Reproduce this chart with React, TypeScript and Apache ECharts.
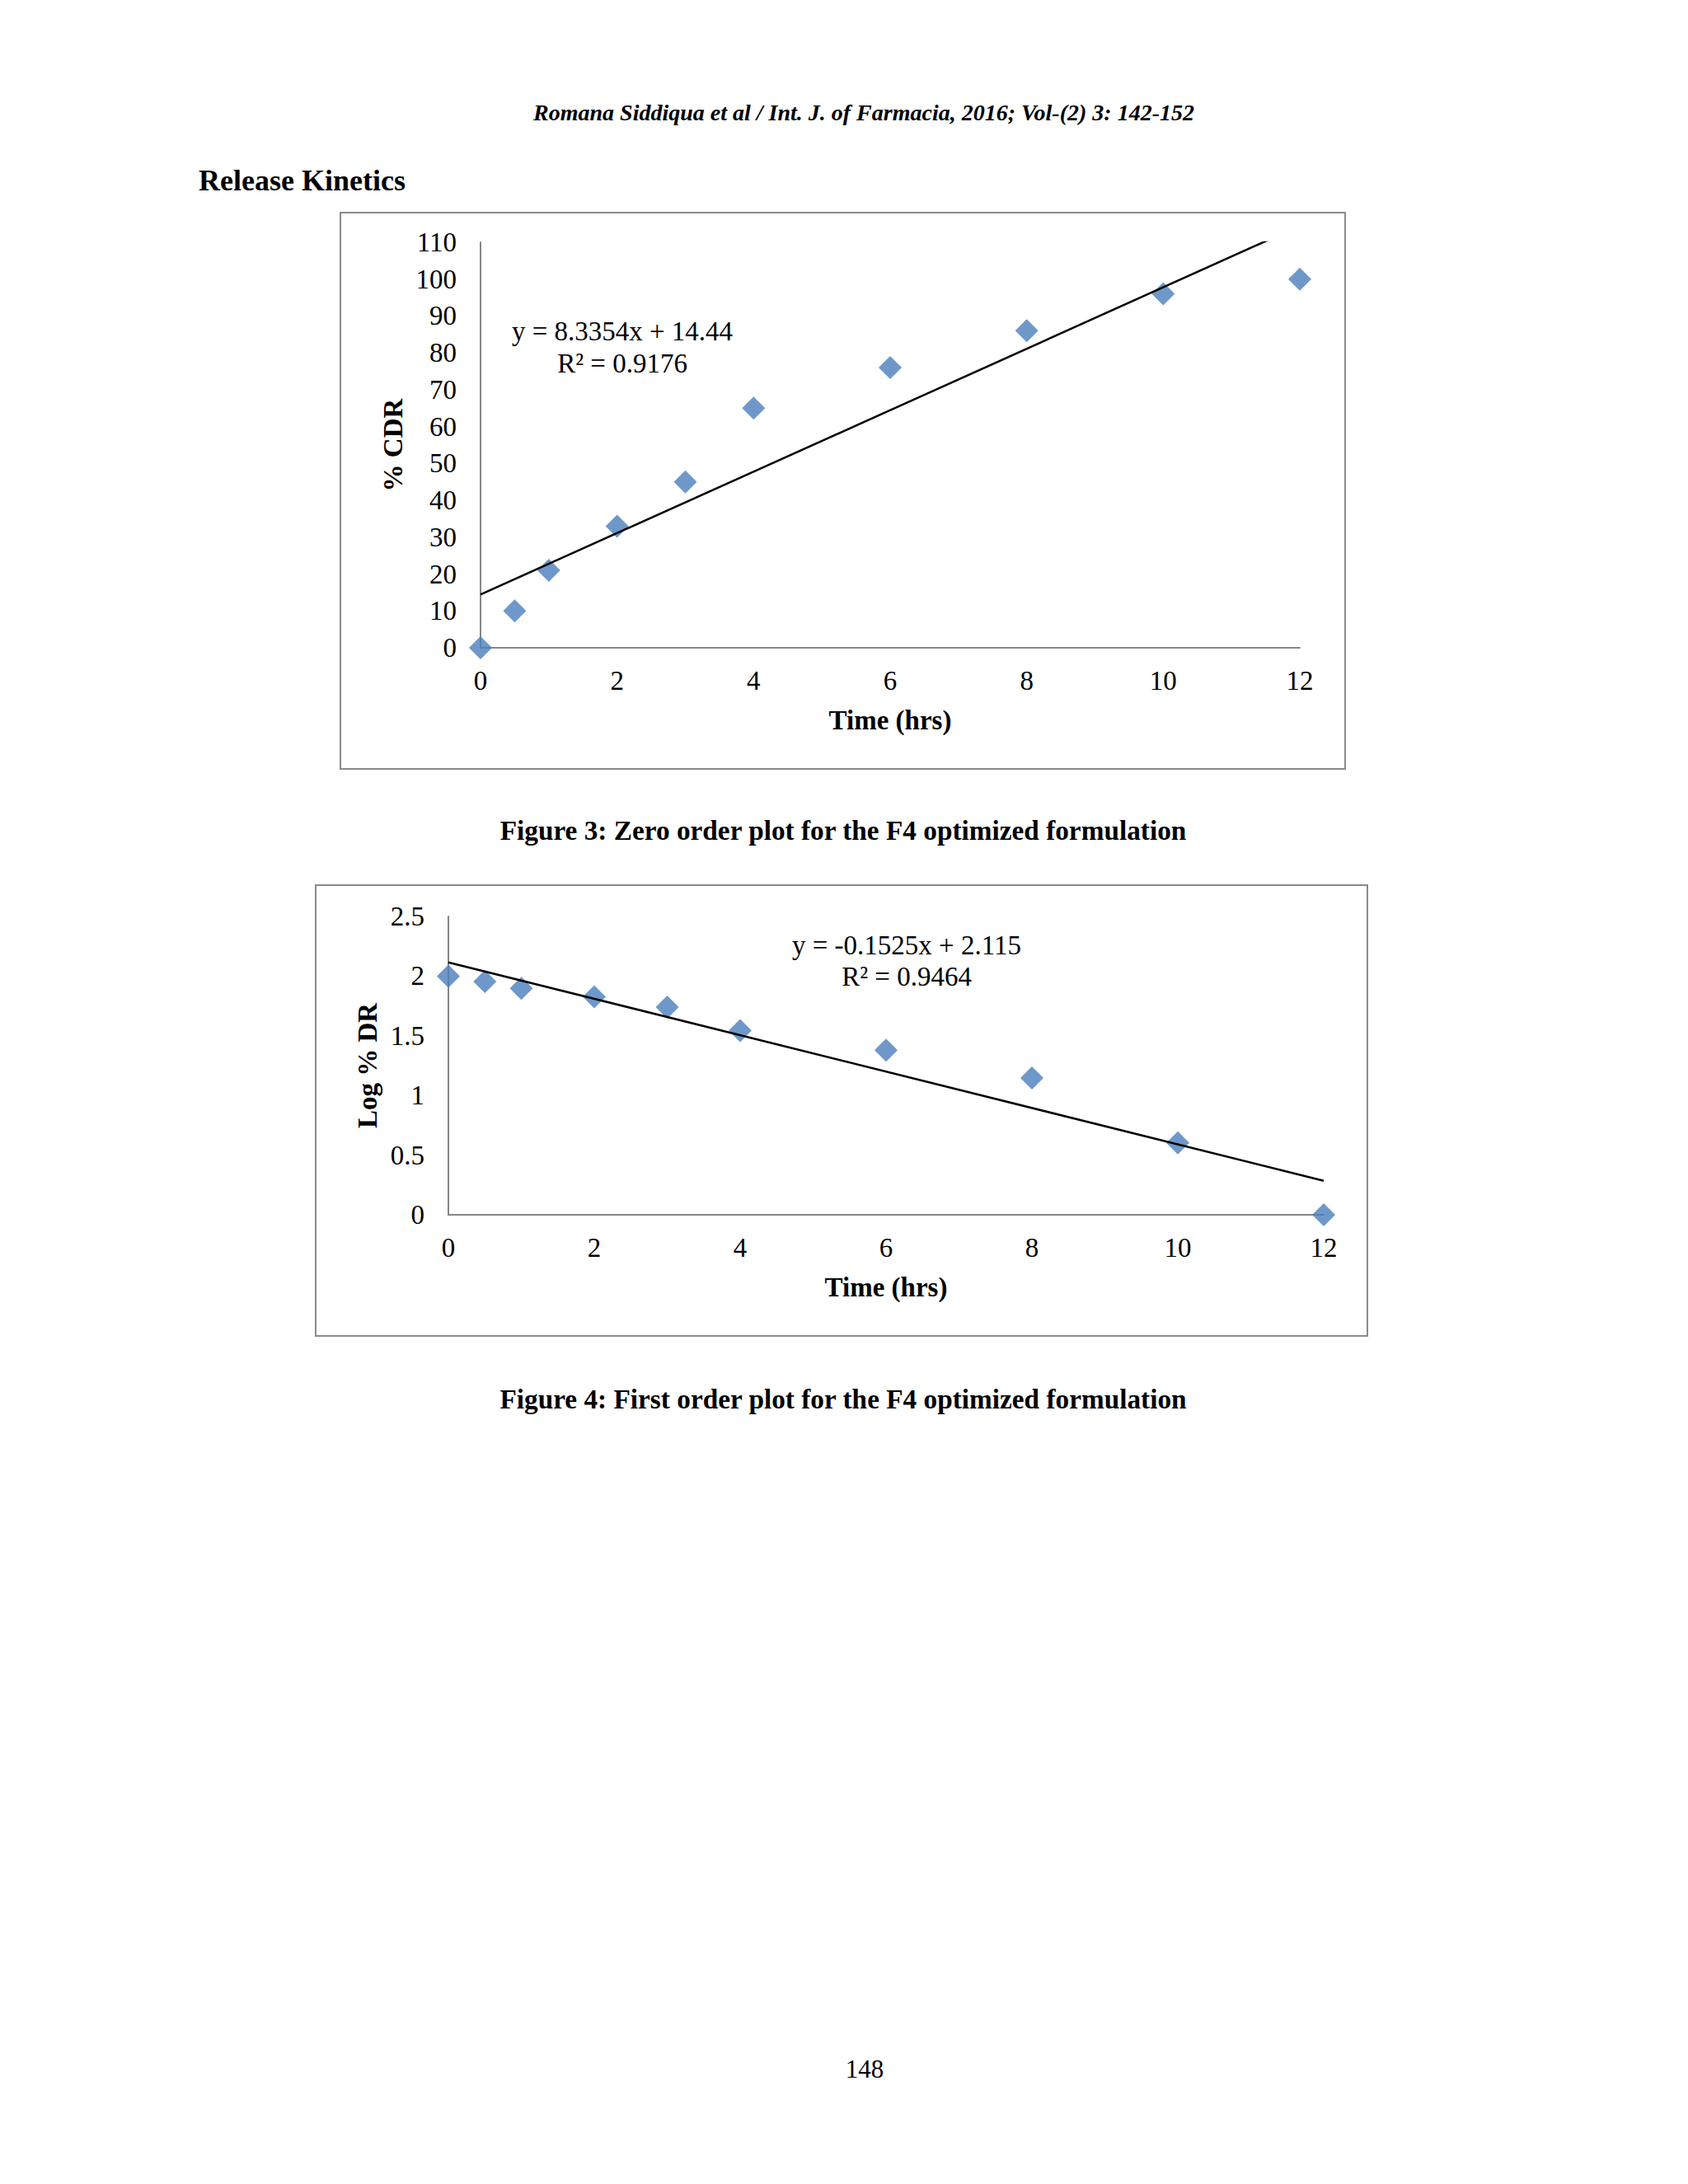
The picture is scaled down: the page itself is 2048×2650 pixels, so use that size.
import React, { useEffect, useRef } from "react";
import * as echarts from "echarts";

// ---- Data ----
const TIME_HRS = [0, 0.5, 1, 2, 3, 4, 6, 8, 10, 12];
const CDR_PERCENT = [0, 10, 21, 33, 45, 65, 76, 86, 96, 100];
const LOG_PERCENT_DR = [2, 1.954, 1.898, 1.826, 1.74, 1.544, 1.38, 1.146, 0.602, 0];

const ZERO_ORDER_FIT = [8.3354, 14.44]; // slope, intercept
const ZERO_ORDER_R2 = "0.9176";
const FIRST_ORDER_FIT = [-0.1525, 2.115]; // slope, intercept
const FIRST_ORDER_R2 = "0.9464";

const X_RANGE = [0, 12];
const X_INTERVAL = 2;
const Y1_RANGE = [0, 110];
const Y1_INTERVAL = 10;
const Y2_RANGE = [0, 2.5];
const Y2_INTERVAL = 0.5;

const HEADER = "Romana Siddiqua et al / Int. J. of Farmacia, 2016; Vol-(2) 3: 142-152";
const SECTION = "Release Kinetics";
const CAPTION_3 = "Figure 3: Zero order plot for the F4 optimized formulation";
const CAPTION_4 = "Figure 4: First order plot for the F4 optimized formulation";
const PAGE_NO = "148";

const FONT = "'Liberation Serif', 'Times New Roman', serif";
const MARKER = "#4A7EBB";
const AXIS_GREY = "#868686";

function fitLine(fit: number[]) {
  return X_RANGE.map((x) => [x, fit[0] * x + fit[1]]);
}
function fmtSigned(v: number) {
  return v < 0 ? "- " + Math.abs(v) : "+ " + v;
}

export default function App() {
  const ref = useRef<HTMLDivElement>(null);

  useEffect(() => {
    if (!ref.current) return;
    const chart = echarts.init(ref.current, undefined, { renderer: "svg" });

    const axisLabel = {
      color: "#000",
      fontFamily: FONT,
      fontSize: 33,
    };
    const nameStyle = {
      color: "#000",
      fontFamily: FONT,
      fontSize: 33,
      fontWeight: "bold" as const,
    };
    const axisLine = { show: true, lineStyle: { color: AXIS_GREY, width: 2 } };

    const xAxisBase = (gridIndex: number) => ({
      type: "value" as const,
      gridIndex,
      min: X_RANGE[0],
      max: X_RANGE[1],
      interval: X_INTERVAL,
      axisLine,
      axisTick: { show: false },
      splitLine: { show: false },
      axisLabel: { ...axisLabel, margin: 23 },
      name: "Time (hrs)",
      nameLocation: "middle" as const,
      nameGap: 71,
      nameTextStyle: nameStyle,
    });

    const eq1 = `y = ${ZERO_ORDER_FIT[0]}x ${fmtSigned(ZERO_ORDER_FIT[1])}`;
    const eq2 = `y = ${FIRST_ORDER_FIT[0]}x ${fmtSigned(FIRST_ORDER_FIT[1])}`;

    const textEl = (
      text: string,
      x: number,
      y: number,
      size: number,
      weight: string,
      align: string,
      style: string = "normal"
    ) => ({
      type: "text",
      x,
      y,
      silent: true,
      style: {
        text,
        fill: "#000",
        font: `${style} ${weight} ${size}px ${FONT}`,
        textAlign: align,
        textVerticalAlign: "middle",
      },
    });

    const option: any = {
      animation: false,
      backgroundColor: "#ffffff",
      grid: [
        { left: 583, top: 294, width: 994, height: 492, containLabel: false },
        { left: 544, top: 1112, width: 1062, height: 362, containLabel: false },
      ],
      xAxis: [xAxisBase(0), xAxisBase(1)],
      yAxis: [
        {
          type: "value",
          gridIndex: 0,
          min: Y1_RANGE[0],
          max: Y1_RANGE[1],
          interval: Y1_INTERVAL,
          axisLine,
          axisTick: { show: false },
          splitLine: { show: false },
          axisLabel: { ...axisLabel, margin: 29 },
          name: "% CDR",
          nameLocation: "middle",
          nameGap: 90,
          nameTextStyle: nameStyle,
        },
        {
          type: "value",
          gridIndex: 1,
          min: Y2_RANGE[0],
          max: Y2_RANGE[1],
          interval: Y2_INTERVAL,
          axisLine,
          axisTick: { show: false },
          splitLine: { show: false },
          axisLabel: { ...axisLabel, margin: 29 },
          name: "Log % DR",
          nameLocation: "middle",
          nameGap: 81,
          nameTextStyle: nameStyle,
        },
      ],
      series: [
        {
          type: "scatter",
          xAxisIndex: 0,
          yAxisIndex: 0,
          symbol: "diamond",
          symbolSize: 28,
          itemStyle: { color: MARKER },
          data: TIME_HRS.map((t, i) => [t, CDR_PERCENT[i]]),
          z: 2,
        },
        {
          type: "line",
          xAxisIndex: 0,
          yAxisIndex: 0,
          showSymbol: false,
          symbol: "none",
          clip: true,
          lineStyle: { color: "#000", width: 2.5 },
          data: fitLine(ZERO_ORDER_FIT),
          z: 3,
        },
        {
          type: "scatter",
          xAxisIndex: 1,
          yAxisIndex: 1,
          symbol: "diamond",
          symbolSize: 28,
          itemStyle: { color: MARKER },
          data: TIME_HRS.map((t, i) => [t, LOG_PERCENT_DR[i]]),
          z: 2,
        },
        {
          type: "line",
          xAxisIndex: 1,
          yAxisIndex: 1,
          showSymbol: false,
          symbol: "none",
          clip: true,
          lineStyle: { color: "#000", width: 2.5 },
          data: fitLine(FIRST_ORDER_FIT),
          z: 3,
        },
      ],
      graphic: [
        {
          type: "rect",
          shape: { x: 413, y: 258, width: 1219, height: 675 },
          style: { fill: "none", stroke: "#8a8a8a", lineWidth: 2 },
          silent: true,
          z: -1,
        },
        {
          type: "rect",
          shape: { x: 383, y: 1074, width: 1276, height: 547 },
          style: { fill: "none", stroke: "#8a8a8a", lineWidth: 2 },
          silent: true,
          z: -1,
        },
        textEl(HEADER, 1048, 136, 28, "bold", "center", "italic"),
        textEl(SECTION, 241, 219, 36, "bold", "left"),
        textEl(eq1, 755, 402, 33, "normal", "center"),
        textEl(`R² = ${ZERO_ORDER_R2}`, 755, 441, 33, "normal", "center"),
        textEl(eq2, 1100, 1147, 33, "normal", "center"),
        textEl(`R² = ${FIRST_ORDER_R2}`, 1100, 1185, 33, "normal", "center"),
        textEl(CAPTION_3, 1023, 1007, 33.3, "bold", "center"),
        textEl(CAPTION_4, 1023, 1697, 33.3, "bold", "center"),
        textEl(PAGE_NO, 1049, 2510, 31, "normal", "center"),
      ],
    };

    chart.setOption(option);
    return () => chart.dispose();
  }, []);

  return (
    <div
      ref={ref}
      style={{
        position: "absolute",
        left: 0,
        top: 0,
        width: 2048,
        height: 2650,
        background: "#ffffff",
      }}
    />
  );
}
